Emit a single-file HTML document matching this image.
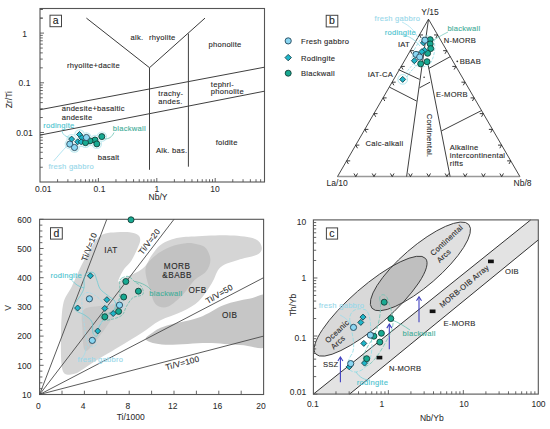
<!DOCTYPE html>
<html><head><meta charset="utf-8"><style>
html,body{margin:0;padding:0;background:#fff;}
svg{display:block;font-family:"Liberation Sans",sans-serif;}
</style></head><body>
<svg width="550" height="429" viewBox="0 0 550 429">
<rect width="550" height="429" fill="#fff"/>
<rect x="40" y="8.5" width="224.5" height="173.5" fill="none" stroke="#555" stroke-width="1.1"/>
<line x1="40.00" y1="167.24" x2="42.80" y2="167.24" stroke="#555" stroke-width="0.9" />
<line x1="40.00" y1="158.49" x2="42.80" y2="158.49" stroke="#555" stroke-width="0.9" />
<line x1="40.00" y1="152.28" x2="42.80" y2="152.28" stroke="#555" stroke-width="0.9" />
<line x1="40.00" y1="147.46" x2="42.80" y2="147.46" stroke="#555" stroke-width="0.9" />
<line x1="40.00" y1="143.53" x2="42.80" y2="143.53" stroke="#555" stroke-width="0.9" />
<line x1="40.00" y1="140.20" x2="42.80" y2="140.20" stroke="#555" stroke-width="0.9" />
<line x1="40.00" y1="137.32" x2="42.80" y2="137.32" stroke="#555" stroke-width="0.9" />
<line x1="40.00" y1="134.77" x2="42.80" y2="134.77" stroke="#555" stroke-width="0.9" />
<line x1="40.00" y1="132.50" x2="44.00" y2="132.50" stroke="#555" stroke-width="0.9" />
<line x1="40.00" y1="117.54" x2="42.80" y2="117.54" stroke="#555" stroke-width="0.9" />
<line x1="40.00" y1="108.79" x2="42.80" y2="108.79" stroke="#555" stroke-width="0.9" />
<line x1="40.00" y1="102.58" x2="42.80" y2="102.58" stroke="#555" stroke-width="0.9" />
<line x1="40.00" y1="97.76" x2="42.80" y2="97.76" stroke="#555" stroke-width="0.9" />
<line x1="40.00" y1="93.83" x2="42.80" y2="93.83" stroke="#555" stroke-width="0.9" />
<line x1="40.00" y1="90.50" x2="42.80" y2="90.50" stroke="#555" stroke-width="0.9" />
<line x1="40.00" y1="87.62" x2="42.80" y2="87.62" stroke="#555" stroke-width="0.9" />
<line x1="40.00" y1="85.07" x2="42.80" y2="85.07" stroke="#555" stroke-width="0.9" />
<line x1="40.00" y1="82.80" x2="44.00" y2="82.80" stroke="#555" stroke-width="0.9" />
<line x1="40.00" y1="67.84" x2="42.80" y2="67.84" stroke="#555" stroke-width="0.9" />
<line x1="40.00" y1="59.09" x2="42.80" y2="59.09" stroke="#555" stroke-width="0.9" />
<line x1="40.00" y1="52.88" x2="42.80" y2="52.88" stroke="#555" stroke-width="0.9" />
<line x1="40.00" y1="48.06" x2="42.80" y2="48.06" stroke="#555" stroke-width="0.9" />
<line x1="40.00" y1="44.13" x2="42.80" y2="44.13" stroke="#555" stroke-width="0.9" />
<line x1="40.00" y1="40.80" x2="42.80" y2="40.80" stroke="#555" stroke-width="0.9" />
<line x1="40.00" y1="37.92" x2="42.80" y2="37.92" stroke="#555" stroke-width="0.9" />
<line x1="40.00" y1="35.37" x2="42.80" y2="35.37" stroke="#555" stroke-width="0.9" />
<line x1="40.00" y1="33.10" x2="44.00" y2="33.10" stroke="#555" stroke-width="0.9" />
<line x1="40.00" y1="18.14" x2="42.80" y2="18.14" stroke="#555" stroke-width="0.9" />
<line x1="40.00" y1="9.39" x2="42.80" y2="9.39" stroke="#555" stroke-width="0.9" />
<line x1="40.00" y1="18.14" x2="42.80" y2="18.14" stroke="#555" stroke-width="0.9" />
<line x1="40.00" y1="9.39" x2="42.80" y2="9.39" stroke="#555" stroke-width="0.9" />
<line x1="57.58" y1="182.00" x2="57.58" y2="179.20" stroke="#555" stroke-width="0.9" />
<line x1="67.86" y1="182.00" x2="67.86" y2="179.20" stroke="#555" stroke-width="0.9" />
<line x1="75.16" y1="182.00" x2="75.16" y2="179.20" stroke="#555" stroke-width="0.9" />
<line x1="80.82" y1="182.00" x2="80.82" y2="179.20" stroke="#555" stroke-width="0.9" />
<line x1="85.44" y1="182.00" x2="85.44" y2="179.20" stroke="#555" stroke-width="0.9" />
<line x1="89.35" y1="182.00" x2="89.35" y2="179.20" stroke="#555" stroke-width="0.9" />
<line x1="92.74" y1="182.00" x2="92.74" y2="179.20" stroke="#555" stroke-width="0.9" />
<line x1="95.73" y1="182.00" x2="95.73" y2="179.20" stroke="#555" stroke-width="0.9" />
<line x1="98.40" y1="182.00" x2="98.40" y2="178.00" stroke="#555" stroke-width="0.9" />
<line x1="115.98" y1="182.00" x2="115.98" y2="179.20" stroke="#555" stroke-width="0.9" />
<line x1="126.26" y1="182.00" x2="126.26" y2="179.20" stroke="#555" stroke-width="0.9" />
<line x1="133.56" y1="182.00" x2="133.56" y2="179.20" stroke="#555" stroke-width="0.9" />
<line x1="139.22" y1="182.00" x2="139.22" y2="179.20" stroke="#555" stroke-width="0.9" />
<line x1="143.84" y1="182.00" x2="143.84" y2="179.20" stroke="#555" stroke-width="0.9" />
<line x1="147.75" y1="182.00" x2="147.75" y2="179.20" stroke="#555" stroke-width="0.9" />
<line x1="151.14" y1="182.00" x2="151.14" y2="179.20" stroke="#555" stroke-width="0.9" />
<line x1="154.13" y1="182.00" x2="154.13" y2="179.20" stroke="#555" stroke-width="0.9" />
<line x1="156.80" y1="182.00" x2="156.80" y2="178.00" stroke="#555" stroke-width="0.9" />
<line x1="174.38" y1="182.00" x2="174.38" y2="179.20" stroke="#555" stroke-width="0.9" />
<line x1="184.66" y1="182.00" x2="184.66" y2="179.20" stroke="#555" stroke-width="0.9" />
<line x1="191.96" y1="182.00" x2="191.96" y2="179.20" stroke="#555" stroke-width="0.9" />
<line x1="197.62" y1="182.00" x2="197.62" y2="179.20" stroke="#555" stroke-width="0.9" />
<line x1="202.24" y1="182.00" x2="202.24" y2="179.20" stroke="#555" stroke-width="0.9" />
<line x1="206.15" y1="182.00" x2="206.15" y2="179.20" stroke="#555" stroke-width="0.9" />
<line x1="209.54" y1="182.00" x2="209.54" y2="179.20" stroke="#555" stroke-width="0.9" />
<line x1="212.53" y1="182.00" x2="212.53" y2="179.20" stroke="#555" stroke-width="0.9" />
<line x1="215.20" y1="182.00" x2="215.20" y2="178.00" stroke="#555" stroke-width="0.9" />
<line x1="232.78" y1="182.00" x2="232.78" y2="179.20" stroke="#555" stroke-width="0.9" />
<line x1="243.06" y1="182.00" x2="243.06" y2="179.20" stroke="#555" stroke-width="0.9" />
<line x1="250.36" y1="182.00" x2="250.36" y2="179.20" stroke="#555" stroke-width="0.9" />
<line x1="256.02" y1="182.00" x2="256.02" y2="179.20" stroke="#555" stroke-width="0.9" />
<line x1="260.64" y1="182.00" x2="260.64" y2="179.20" stroke="#555" stroke-width="0.9" />
<text x="24.50" y="36.70" font-size="8.5" letter-spacing="0" text-anchor="middle" fill="#2a2a2a" stroke="#2a2a2a" stroke-width="0.05" >1</text>
<text x="24.50" y="86.40" font-size="8.5" letter-spacing="0" text-anchor="middle" fill="#2a2a2a" stroke="#2a2a2a" stroke-width="0.05" >0.1</text>
<text x="24.50" y="136.10" font-size="8.5" letter-spacing="0" text-anchor="middle" fill="#2a2a2a" stroke="#2a2a2a" stroke-width="0.05" >0.01</text>
<text x="43.20" y="191.90" font-size="8.5" letter-spacing="0" text-anchor="middle" fill="#2a2a2a" stroke="#2a2a2a" stroke-width="0.05" >0.01</text>
<text x="99.50" y="191.90" font-size="8.5" letter-spacing="0" text-anchor="middle" fill="#2a2a2a" stroke="#2a2a2a" stroke-width="0.05" >0.1</text>
<text x="156.90" y="191.90" font-size="8.5" letter-spacing="0" text-anchor="middle" fill="#2a2a2a" stroke="#2a2a2a" stroke-width="0.05" >1</text>
<text x="214.90" y="191.90" font-size="8.5" letter-spacing="0" text-anchor="middle" fill="#2a2a2a" stroke="#2a2a2a" stroke-width="0.05" >10</text>
<text x="158.00" y="200.00" font-size="8.5" letter-spacing="0" text-anchor="middle" fill="#2a2a2a" stroke="#2a2a2a" stroke-width="0.05" >Nb/Y</text>
<text x="0.00" y="0.00" font-size="8.5" letter-spacing="0" text-anchor="middle" fill="#2a2a2a" stroke="#2a2a2a" stroke-width="0.05" transform="translate(11.6,99.6) rotate(-90)">Zr/Ti</text>
<rect x="50" y="15.2" width="11.5" height="11.5" fill="#fff" stroke="#444" stroke-width="1"/>
<text x="55.88" y="24.10" font-size="10.5" letter-spacing="0.25" text-anchor="middle" fill="#222" stroke="#222" stroke-width="0.12" >a</text>
<polyline points="86.40,18.10 149.50,67.70 205.00,18.10" fill="none" stroke="#3a3a3a" stroke-width="1" />
<line x1="149.50" y1="67.70" x2="149.50" y2="169.80" stroke="#404040" stroke-width="1" />
<line x1="188.40" y1="33.60" x2="188.40" y2="166.70" stroke="#404040" stroke-width="1" />
<line x1="40.00" y1="109.70" x2="264.50" y2="67.20" stroke="#404040" stroke-width="1" />
<line x1="40.00" y1="135.10" x2="264.50" y2="91.20" stroke="#404040" stroke-width="1" />
<text x="130.50" y="39.70" font-size="7.6" letter-spacing="0.25" text-anchor="start" fill="#2a2a2a" stroke="#2a2a2a" stroke-width="0.12" >alk.</text>
<text x="149.00" y="39.70" font-size="7.6" letter-spacing="0.25" text-anchor="start" fill="#2a2a2a" stroke="#2a2a2a" stroke-width="0.12" >rhyolite</text>
<text x="208.50" y="46.80" font-size="7.6" letter-spacing="0.25" text-anchor="start" fill="#2a2a2a" stroke="#2a2a2a" stroke-width="0.12" >phonolite</text>
<text x="67.00" y="67.70" font-size="7.6" letter-spacing="0.25" text-anchor="start" fill="#2a2a2a" stroke="#2a2a2a" stroke-width="0.12" >rhyolite+dacite</text>
<text x="210.80" y="86.80" font-size="7.6" letter-spacing="0.25" text-anchor="start" fill="#2a2a2a" stroke="#2a2a2a" stroke-width="0.12" >tephri-</text>
<text x="210.80" y="94.20" font-size="7.6" letter-spacing="0.25" text-anchor="start" fill="#2a2a2a" stroke="#2a2a2a" stroke-width="0.12" >phonolite</text>
<text x="158.30" y="95.90" font-size="7.6" letter-spacing="0.25" text-anchor="start" fill="#2a2a2a" stroke="#2a2a2a" stroke-width="0.12" >trachy-</text>
<text x="158.30" y="104.00" font-size="7.6" letter-spacing="0.25" text-anchor="start" fill="#2a2a2a" stroke="#2a2a2a" stroke-width="0.12" >andes.</text>
<text x="61.70" y="111.40" font-size="7.6" letter-spacing="0.25" text-anchor="start" fill="#2a2a2a" stroke="#2a2a2a" stroke-width="0.12" >andesite+basaltic</text>
<text x="61.70" y="119.80" font-size="7.6" letter-spacing="0.25" text-anchor="start" fill="#2a2a2a" stroke="#2a2a2a" stroke-width="0.12" >andesite</text>
<text x="156.00" y="153.40" font-size="7.6" letter-spacing="0.25" text-anchor="start" fill="#2a2a2a" stroke="#2a2a2a" stroke-width="0.12" >Alk. bas.</text>
<text x="97.70" y="160.20" font-size="7.6" letter-spacing="0.25" text-anchor="start" fill="#2a2a2a" stroke="#2a2a2a" stroke-width="0.12" >basalt</text>
<text x="215.70" y="144.60" font-size="7.6" letter-spacing="0.25" text-anchor="start" fill="#2a2a2a" stroke="#2a2a2a" stroke-width="0.12" >foidite</text>
<circle cx="71.6" cy="139.1" r="5.2" fill="#bfeaf0"/>
<circle cx="79.5" cy="134.5" r="5.2" fill="#bfeaf0"/>
<circle cx="81.8" cy="137.7" r="5.2" fill="#bfeaf0"/>
<circle cx="77.7" cy="141.8" r="5.2" fill="#bfeaf0"/>
<circle cx="81.1" cy="141.8" r="5.2" fill="#bfeaf0"/>
<circle cx="101.8" cy="136.6" r="5.2" fill="#bfeaf0"/>
<circle cx="95" cy="140" r="5.2" fill="#bfeaf0"/>
<circle cx="96.8" cy="143.9" r="5.2" fill="#bfeaf0"/>
<circle cx="90" cy="140.9" r="5.2" fill="#bfeaf0"/>
<circle cx="85.5" cy="142.7" r="5.2" fill="#bfeaf0"/>
<circle cx="69.8" cy="144.1" r="5.2" fill="#bfeaf0"/>
<circle cx="74.5" cy="147.5" r="5.2" fill="#bfeaf0"/>
<circle cx="86.4" cy="137.5" r="5.2" fill="#bfeaf0"/>
<circle cx="71.6" cy="139.1" r="4.3" fill="#eefafb"/>
<circle cx="79.5" cy="134.5" r="4.3" fill="#eefafb"/>
<circle cx="81.8" cy="137.7" r="4.3" fill="#eefafb"/>
<circle cx="77.7" cy="141.8" r="4.3" fill="#eefafb"/>
<circle cx="81.1" cy="141.8" r="4.3" fill="#eefafb"/>
<circle cx="101.8" cy="136.6" r="4.3" fill="#eefafb"/>
<circle cx="95" cy="140" r="4.3" fill="#eefafb"/>
<circle cx="96.8" cy="143.9" r="4.3" fill="#eefafb"/>
<circle cx="90" cy="140.9" r="4.3" fill="#eefafb"/>
<circle cx="85.5" cy="142.7" r="4.3" fill="#eefafb"/>
<circle cx="69.8" cy="144.1" r="4.3" fill="#eefafb"/>
<circle cx="74.5" cy="147.5" r="4.3" fill="#eefafb"/>
<circle cx="86.4" cy="137.5" r="4.3" fill="#eefafb"/>
<path d="M61.8,131 C63,135 66,137 70,137.5" fill="none" stroke="#7dd3dc" stroke-width="0.8"/>
<path d="M53.6,161 C58,156 63,150 67,146" fill="none" stroke="#9edcec" stroke-width="0.8"/>
<path d="M114,132.5 C112,137 109,139 104.5,139" fill="none" stroke="#6cc4b4" stroke-width="0.8"/>
<text x="43.20" y="128.30" font-size="7.6" letter-spacing="0.25" text-anchor="start" fill="#4cc4cf" stroke="#4cc4cf" stroke-width="0.12" >rodingite</text>
<text x="48.40" y="168.60" font-size="7.6" letter-spacing="0.25" text-anchor="start" fill="#98d8ea" stroke="#98d8ea" stroke-width="0.12" >fresh gabbro</text>
<text x="112.80" y="130.60" font-size="7.6" letter-spacing="0.25" text-anchor="start" fill="#45ae9a" stroke="#45ae9a" stroke-width="0.12" >blackwall</text>
<polygon points="71.60,136.10 74.60,139.10 71.60,142.10 68.60,139.10" fill="#1fb6c9" stroke="#16434c" stroke-width="0.9" />
<polygon points="79.50,131.50 82.50,134.50 79.50,137.50 76.50,134.50" fill="#1fb6c9" stroke="#16434c" stroke-width="0.9" />
<polygon points="81.80,134.70 84.80,137.70 81.80,140.70 78.80,137.70" fill="#1fb6c9" stroke="#16434c" stroke-width="0.9" />
<polygon points="77.70,138.80 80.70,141.80 77.70,144.80 74.70,141.80" fill="#1fb6c9" stroke="#16434c" stroke-width="0.9" />
<polygon points="81.10,138.80 84.10,141.80 81.10,144.80 78.10,141.80" fill="#1fb6c9" stroke="#16434c" stroke-width="0.9" />
<circle cx="101.80" cy="136.60" r="3.0" fill="#18aa92" stroke="#123f38" stroke-width="0.9"/>
<circle cx="95.00" cy="140.00" r="3.0" fill="#18aa92" stroke="#123f38" stroke-width="0.9"/>
<circle cx="96.80" cy="143.90" r="3.0" fill="#18aa92" stroke="#123f38" stroke-width="0.9"/>
<circle cx="90.00" cy="140.90" r="3.0" fill="#18aa92" stroke="#123f38" stroke-width="0.9"/>
<circle cx="85.50" cy="142.70" r="3.0" fill="#18aa92" stroke="#123f38" stroke-width="0.9"/>
<circle cx="69.80" cy="144.10" r="3.1" fill="#8ad6f2" stroke="#24465a" stroke-width="0.9"/>
<circle cx="74.50" cy="147.50" r="3.1" fill="#8ad6f2" stroke="#24465a" stroke-width="0.9"/>
<circle cx="86.40" cy="137.50" r="3.1" fill="#8ad6f2" stroke="#24465a" stroke-width="0.9"/>
<circle cx="288.20" cy="40.90" r="3.1" fill="#8ad6f2" stroke="#24465a" stroke-width="0.9"/>
<polygon points="288.20,54.40 291.40,57.60 288.20,60.80 285.00,57.60" fill="#1fb6c9" stroke="#16434c" stroke-width="0.9" />
<circle cx="288.20" cy="73.20" r="3.0" fill="#18aa92" stroke="#123f38" stroke-width="0.9"/>
<text x="301.00" y="43.60" font-size="7.6" letter-spacing="0.25" text-anchor="start" fill="#2a2a2a" stroke="#2a2a2a" stroke-width="0.12" >Fresh gabbro</text>
<text x="301.00" y="60.60" font-size="7.6" letter-spacing="0.25" text-anchor="start" fill="#2a2a2a" stroke="#2a2a2a" stroke-width="0.12" >Rodingite</text>
<text x="301.00" y="75.80" font-size="7.6" letter-spacing="0.25" text-anchor="start" fill="#2a2a2a" stroke="#2a2a2a" stroke-width="0.12" >Blackwall</text>
<rect x="326.2" y="15.3" width="11.6" height="11.6" fill="#fff" stroke="#444" stroke-width="1"/>
<text x="332.12" y="24.30" font-size="10.5" letter-spacing="0.25" text-anchor="middle" fill="#222" stroke="#222" stroke-width="0.12" >b</text>
<line x1="337.50" y1="176.60" x2="519.90" y2="176.60" stroke="#999" stroke-width="1.5" />
<polyline points="337.50,176.60 428.50,19.20 519.90,176.60" fill="none" stroke="#333" stroke-width="0.9" />
<polyline points="353.94,173.48 355.74,176.60 357.54,173.48" fill="none" stroke="#222" stroke-width="0.9" />
<polyline points="423.00,34.94 419.40,34.94 421.20,38.06" fill="none" stroke="#222" stroke-width="0.9" />
<polyline points="434.04,34.94 437.64,34.94 435.84,38.06" fill="none" stroke="#222" stroke-width="0.9" />
<polyline points="372.18,173.48 373.98,176.60 375.78,173.48" fill="none" stroke="#222" stroke-width="0.9" />
<polyline points="413.90,50.68 410.30,50.68 412.10,53.80" fill="none" stroke="#222" stroke-width="0.9" />
<polyline points="443.18,50.68 446.78,50.68 444.98,53.80" fill="none" stroke="#222" stroke-width="0.9" />
<polyline points="390.42,173.48 392.22,176.60 394.02,173.48" fill="none" stroke="#222" stroke-width="0.9" />
<polyline points="404.80,66.42 401.20,66.42 403.00,69.54" fill="none" stroke="#222" stroke-width="0.9" />
<polyline points="452.32,66.42 455.92,66.42 454.12,69.54" fill="none" stroke="#222" stroke-width="0.9" />
<polyline points="408.66,173.48 410.46,176.60 412.26,173.48" fill="none" stroke="#222" stroke-width="0.9" />
<polyline points="395.70,82.16 392.10,82.16 393.90,85.28" fill="none" stroke="#222" stroke-width="0.9" />
<polyline points="461.46,82.16 465.06,82.16 463.26,85.28" fill="none" stroke="#222" stroke-width="0.9" />
<polyline points="426.90,173.48 428.70,176.60 430.50,173.48" fill="none" stroke="#222" stroke-width="0.9" />
<polyline points="386.60,97.90 383.00,97.90 384.80,101.02" fill="none" stroke="#222" stroke-width="0.9" />
<polyline points="470.60,97.90 474.20,97.90 472.40,101.02" fill="none" stroke="#222" stroke-width="0.9" />
<polyline points="445.14,173.48 446.94,176.60 448.74,173.48" fill="none" stroke="#222" stroke-width="0.9" />
<polyline points="377.50,113.64 373.90,113.64 375.70,116.76" fill="none" stroke="#222" stroke-width="0.9" />
<polyline points="479.74,113.64 483.34,113.64 481.54,116.76" fill="none" stroke="#222" stroke-width="0.9" />
<polyline points="463.38,173.48 465.18,176.60 466.98,173.48" fill="none" stroke="#222" stroke-width="0.9" />
<polyline points="368.40,129.38 364.80,129.38 366.60,132.50" fill="none" stroke="#222" stroke-width="0.9" />
<polyline points="488.88,129.38 492.48,129.38 490.68,132.50" fill="none" stroke="#222" stroke-width="0.9" />
<polyline points="481.62,173.48 483.42,176.60 485.22,173.48" fill="none" stroke="#222" stroke-width="0.9" />
<polyline points="359.30,145.12 355.70,145.12 357.50,148.24" fill="none" stroke="#222" stroke-width="0.9" />
<polyline points="498.02,145.12 501.62,145.12 499.82,148.24" fill="none" stroke="#222" stroke-width="0.9" />
<polyline points="499.86,173.48 501.66,176.60 503.46,173.48" fill="none" stroke="#222" stroke-width="0.9" />
<polyline points="350.20,160.86 346.60,160.86 348.40,163.98" fill="none" stroke="#222" stroke-width="0.9" />
<polyline points="507.16,160.86 510.76,160.86 508.96,163.98" fill="none" stroke="#222" stroke-width="0.9" />
<text x="430.00" y="15.20" font-size="8.5" letter-spacing="0" text-anchor="middle" fill="#2a2a2a" stroke="#2a2a2a" stroke-width="0.05" >Y/15</text>
<text x="326.50" y="186.40" font-size="8.5" letter-spacing="0" text-anchor="start" fill="#2a2a2a" stroke="#2a2a2a" stroke-width="0.05" >La/10</text>
<text x="513.60" y="186.40" font-size="8.5" letter-spacing="0" text-anchor="start" fill="#2a2a2a" stroke="#2a2a2a" stroke-width="0.05" >Nb/8</text>
<line x1="428.50" y1="19.20" x2="406.60" y2="176.60" stroke="#404040" stroke-width="1" />
<line x1="427.60" y1="62.00" x2="450.10" y2="176.60" stroke="#404040" stroke-width="1" />
<line x1="398.50" y1="69.60" x2="419.50" y2="79.40" stroke="#404040" stroke-width="1" />
<line x1="389.40" y1="87.10" x2="416.70" y2="101.10" stroke="#404040" stroke-width="1" />
<line x1="419.50" y1="87.80" x2="430.00" y2="82.20" stroke="#404040" stroke-width="1" />
<line x1="428.70" y1="68.50" x2="450.50" y2="56.50" stroke="#404040" stroke-width="1" />
<line x1="441.30" y1="131.00" x2="482.00" y2="110.30" stroke="#404040" stroke-width="1" />
<circle cx="424.1" cy="77.3" r="0.8" fill="#333"/>
<circle cx="457.3" cy="61.3" r="0.9" fill="#333"/>
<text x="397.90" y="47.30" font-size="7.6" letter-spacing="0.25" text-anchor="start" fill="#2a2a2a" stroke="#2a2a2a" stroke-width="0.12" >IAT</text>
<text x="443.70" y="43.40" font-size="7.6" letter-spacing="0.25" text-anchor="start" fill="#2a2a2a" stroke="#2a2a2a" stroke-width="0.12" >N-MORB</text>
<text x="459.70" y="63.50" font-size="7.6" letter-spacing="0.25" text-anchor="start" fill="#2a2a2a" stroke="#2a2a2a" stroke-width="0.12" >BBAB</text>
<text x="367.70" y="76.90" font-size="7.6" letter-spacing="0.25" text-anchor="start" fill="#2a2a2a" stroke="#2a2a2a" stroke-width="0.12" >IAT-CA</text>
<text x="436.00" y="96.90" font-size="7.6" letter-spacing="0.25" text-anchor="start" fill="#2a2a2a" stroke="#2a2a2a" stroke-width="0.12" >E-MORB</text>
<text x="365.60" y="146.30" font-size="7.6" letter-spacing="0.25" text-anchor="start" fill="#2a2a2a" stroke="#2a2a2a" stroke-width="0.12" >Calc-alkali</text>
<text x="449.80" y="150.00" font-size="7.6" letter-spacing="0.25" text-anchor="start" fill="#2a2a2a" stroke="#2a2a2a" stroke-width="0.12" >Alkaline</text>
<text x="449.80" y="158.10" font-size="7.6" letter-spacing="0.25" text-anchor="start" fill="#2a2a2a" stroke="#2a2a2a" stroke-width="0.12" >intercontinental</text>
<text x="449.80" y="166.20" font-size="7.6" letter-spacing="0.25" text-anchor="start" fill="#2a2a2a" stroke="#2a2a2a" stroke-width="0.12" >rifts</text>
<text x="0.12" y="0.00" font-size="7.6" letter-spacing="0.25" text-anchor="middle" fill="#2a2a2a" stroke="#2a2a2a" stroke-width="0.12" transform="translate(426.6,135.3) rotate(90)">Continental.</text>
<path d="M413,63 C410,56 415,48 420,40 C424,34 432,35 434,40 C436,48 434,58 430,64 C426,68 416,68 413,63 Z" fill="none" stroke="#8fdde6" stroke-width="0.8" stroke-dasharray="3,1.5"/>
<ellipse cx="402.7" cy="79.4" rx="4.8" ry="4.8" fill="none" stroke="#8fdde6" stroke-width="0.7"/>
<path d="M414,63 C410,68 406,72 405,75" fill="none" stroke="#9fdcec" stroke-width="0.7" stroke-dasharray="2.5,1.2"/>
<path d="M418,64 C412,70 408,74 407,77" fill="none" stroke="#7dd3dc" stroke-width="0.7" stroke-dasharray="2.5,1.2"/>
<path d="M418,38 C414,30 410,26 402,22" fill="none" stroke="#9edcec" stroke-width="0.7"/>
<path d="M420,46 C415,40 410,36 400,34" fill="none" stroke="#7dd3dc" stroke-width="0.7"/>
<path d="M434,40 C440,36 444,34 448,32" fill="none" stroke="#6cc4b4" stroke-width="0.7"/>
<text x="420.25" y="21.20" font-size="7.6" letter-spacing="0.25" text-anchor="end" fill="#98d8ea" stroke="#98d8ea" stroke-width="0.12" >fresh gabbro</text>
<text x="416.05" y="34.90" font-size="7.6" letter-spacing="0.25" text-anchor="end" fill="#4cc4cf" stroke="#4cc4cf" stroke-width="0.12" >rodingite</text>
<text x="447.40" y="31.00" font-size="7.6" letter-spacing="0.25" text-anchor="start" fill="#45ae9a" stroke="#45ae9a" stroke-width="0.12" >blackwall</text>
<circle cx="430.20" cy="39.70" r="3.0" fill="#18aa92" stroke="#123f38" stroke-width="0.9"/>
<circle cx="430.20" cy="43.90" r="3.0" fill="#18aa92" stroke="#123f38" stroke-width="0.9"/>
<circle cx="430.70" cy="48.60" r="3.0" fill="#18aa92" stroke="#123f38" stroke-width="0.9"/>
<circle cx="427.60" cy="53.30" r="3.0" fill="#18aa92" stroke="#123f38" stroke-width="0.9"/>
<circle cx="420.70" cy="63.80" r="3.0" fill="#18aa92" stroke="#123f38" stroke-width="0.9"/>
<circle cx="427.00" cy="61.70" r="3.0" fill="#18aa92" stroke="#123f38" stroke-width="0.9"/>
<polygon points="423.40,39.80 426.40,42.80 423.40,45.80 420.40,42.80" fill="#1fb6c9" stroke="#16434c" stroke-width="0.9" />
<polygon points="424.40,47.20 427.40,50.20 424.40,53.20 421.40,50.20" fill="#1fb6c9" stroke="#16434c" stroke-width="0.9" />
<polygon points="421.80,48.70 424.80,51.70 421.80,54.70 418.80,51.70" fill="#1fb6c9" stroke="#16434c" stroke-width="0.9" />
<polygon points="414.40,57.70 417.40,60.70 414.40,63.70 411.40,60.70" fill="#1fb6c9" stroke="#16434c" stroke-width="0.9" />
<polygon points="402.70,76.40 405.70,79.40 402.70,82.40 399.70,79.40" fill="#1fb6c9" stroke="#16434c" stroke-width="0.9" />
<circle cx="424.90" cy="40.20" r="3.1" fill="#8ad6f2" stroke="#24465a" stroke-width="0.9"/>
<circle cx="416.00" cy="54.40" r="3.1" fill="#8ad6f2" stroke="#24465a" stroke-width="0.9"/>
<circle cx="419.70" cy="57.00" r="3.1" fill="#8ad6f2" stroke="#24465a" stroke-width="0.9"/>
<defs><clipPath id="dcl"><rect x="39.6" y="219.3" width="224.00000000000003" height="175.2"/></clipPath></defs><g clip-path="url(#dcl)">
<path d="M73.50,374.00 C70.50,374.15 65.10,376.72 63.00,371.50 C60.90,366.28 60.90,353.78 60.90,342.70 C60.90,331.62 61.18,314.35 63.00,305.00 C64.82,295.65 68.78,293.10 71.80,286.60 C74.82,280.10 78.00,272.22 81.10,266.00 C84.20,259.78 87.60,253.95 90.40,249.30 C93.20,244.65 95.40,240.75 97.90,238.10 C100.40,235.45 102.28,234.38 105.40,233.40 C108.52,232.42 112.57,232.40 116.60,232.20 C120.63,232.00 126.03,231.73 129.60,232.20 C133.17,232.67 136.23,233.62 138.00,235.00 C139.77,236.38 140.35,238.12 140.20,240.50 C140.05,242.88 138.55,245.98 137.10,249.30 C135.65,252.62 133.57,257.23 131.50,260.40 C129.43,263.57 126.62,265.62 124.70,268.30 C122.78,270.98 121.05,274.25 120.00,276.50 C118.95,278.75 117.57,281.63 118.40,281.80 C119.23,281.97 121.68,279.23 125.00,277.50 C128.32,275.77 134.82,273.43 138.30,271.40 C141.78,269.37 143.87,267.70 145.90,265.30 C147.93,262.90 148.82,259.63 150.50,257.00 C152.18,254.37 153.98,251.75 156.00,249.50 C158.02,247.25 159.43,245.33 162.60,243.50 C165.77,241.67 170.18,239.65 175.00,238.50 C179.82,237.35 182.93,237.15 191.50,236.60 C200.07,236.05 216.23,234.95 226.40,235.20 C236.57,235.45 246.68,236.40 252.50,238.10 C258.32,239.80 260.32,242.73 261.30,245.40 C262.28,248.07 262.28,251.68 258.40,254.10 C254.52,256.52 244.32,257.72 238.00,259.90 C231.68,262.08 224.87,263.32 220.50,267.20 C216.13,271.08 215.40,277.58 211.80,283.20 C208.20,288.82 203.83,296.20 198.90,300.90 C193.97,305.60 188.68,308.13 182.20,311.40 C175.72,314.67 166.77,316.90 160.00,320.50 C153.23,324.10 148.55,328.53 141.60,333.00 C134.65,337.47 126.07,342.58 118.30,347.30 C110.53,352.02 101.22,357.42 95.00,361.30 C88.78,365.18 84.58,368.48 81.00,370.60 C77.42,372.72 76.50,373.85 73.50,374.00 Z" fill="#d5d5d5"/>
<path d="M83.30,310.30 C86.22,306.30 94.17,306.97 100.00,306.00 C105.83,305.03 115.63,303.40 118.30,304.50 C120.97,305.60 117.95,308.92 116.00,312.60 C114.05,316.28 110.50,321.15 106.60,326.60 C102.70,332.05 96.28,341.40 92.60,345.30 C88.92,349.20 86.18,352.55 84.50,350.00 C82.82,347.45 82.70,336.62 82.50,330.00 C82.30,323.38 80.38,314.30 83.30,310.30 Z" fill="#c9c9c9"/>
<path d="M145.50,269.00 C146.18,263.02 150.72,259.67 154.80,256.00 C158.88,252.33 164.80,249.13 170.00,247.00 C175.20,244.87 181.33,243.62 186.00,243.20 C190.67,242.78 194.67,243.65 198.00,244.50 C201.33,245.35 203.93,245.73 206.00,248.30 C208.07,250.87 210.40,256.03 210.40,259.90 C210.40,263.77 208.67,268.10 206.00,271.50 C203.33,274.90 198.28,276.42 194.40,280.30 C190.52,284.18 187.07,290.43 182.70,294.80 C178.33,299.17 172.57,304.80 168.20,306.50 C163.83,308.20 159.42,307.43 156.50,305.00 C153.58,302.57 152.53,297.90 150.70,291.90 C148.87,285.90 144.82,274.98 145.50,269.00 Z" fill="#c2c2c2"/>
<path d="M146.20,340.00 C143.95,338.03 148.78,335.33 152.00,333.00 C155.22,330.67 157.68,328.57 165.50,326.00 C173.32,323.43 189.15,321.10 198.90,317.60 C208.65,314.10 215.63,308.13 224.00,305.00 C232.37,301.87 241.43,300.05 249.10,298.80 C256.77,297.55 266.52,289.88 270.00,297.50 C273.48,305.12 275.00,336.58 270.00,344.50 C265.00,352.42 250.45,345.25 240.00,345.00 C229.55,344.75 219.72,343.03 207.30,343.00 C194.88,342.97 175.68,345.30 165.50,344.80 C155.32,344.30 148.45,341.97 146.20,340.00 Z" fill="#c6c6c6"/>
</g>
<rect x="39.6" y="219.3" width="224.00000000000003" height="175.2" fill="none" stroke="#555" stroke-width="1.1"/>
<line x1="39.60" y1="394.50" x2="43.60" y2="394.50" stroke="#555" stroke-width="0.9" />
<line x1="39.60" y1="388.66" x2="42.40" y2="388.66" stroke="#555" stroke-width="0.9" />
<line x1="39.60" y1="382.82" x2="42.40" y2="382.82" stroke="#555" stroke-width="0.9" />
<line x1="39.60" y1="376.98" x2="42.40" y2="376.98" stroke="#555" stroke-width="0.9" />
<line x1="39.60" y1="371.14" x2="42.40" y2="371.14" stroke="#555" stroke-width="0.9" />
<line x1="39.60" y1="365.30" x2="43.60" y2="365.30" stroke="#555" stroke-width="0.9" />
<line x1="39.60" y1="359.46" x2="42.40" y2="359.46" stroke="#555" stroke-width="0.9" />
<line x1="39.60" y1="353.62" x2="42.40" y2="353.62" stroke="#555" stroke-width="0.9" />
<line x1="39.60" y1="347.78" x2="42.40" y2="347.78" stroke="#555" stroke-width="0.9" />
<line x1="39.60" y1="341.94" x2="42.40" y2="341.94" stroke="#555" stroke-width="0.9" />
<line x1="39.60" y1="336.10" x2="43.60" y2="336.10" stroke="#555" stroke-width="0.9" />
<line x1="39.60" y1="330.26" x2="42.40" y2="330.26" stroke="#555" stroke-width="0.9" />
<line x1="39.60" y1="324.42" x2="42.40" y2="324.42" stroke="#555" stroke-width="0.9" />
<line x1="39.60" y1="318.58" x2="42.40" y2="318.58" stroke="#555" stroke-width="0.9" />
<line x1="39.60" y1="312.74" x2="42.40" y2="312.74" stroke="#555" stroke-width="0.9" />
<line x1="39.60" y1="306.90" x2="43.60" y2="306.90" stroke="#555" stroke-width="0.9" />
<line x1="39.60" y1="301.06" x2="42.40" y2="301.06" stroke="#555" stroke-width="0.9" />
<line x1="39.60" y1="295.22" x2="42.40" y2="295.22" stroke="#555" stroke-width="0.9" />
<line x1="39.60" y1="289.38" x2="42.40" y2="289.38" stroke="#555" stroke-width="0.9" />
<line x1="39.60" y1="283.54" x2="42.40" y2="283.54" stroke="#555" stroke-width="0.9" />
<line x1="39.60" y1="277.70" x2="43.60" y2="277.70" stroke="#555" stroke-width="0.9" />
<line x1="39.60" y1="271.86" x2="42.40" y2="271.86" stroke="#555" stroke-width="0.9" />
<line x1="39.60" y1="266.02" x2="42.40" y2="266.02" stroke="#555" stroke-width="0.9" />
<line x1="39.60" y1="260.18" x2="42.40" y2="260.18" stroke="#555" stroke-width="0.9" />
<line x1="39.60" y1="254.34" x2="42.40" y2="254.34" stroke="#555" stroke-width="0.9" />
<line x1="39.60" y1="248.50" x2="43.60" y2="248.50" stroke="#555" stroke-width="0.9" />
<line x1="39.60" y1="242.66" x2="42.40" y2="242.66" stroke="#555" stroke-width="0.9" />
<line x1="39.60" y1="236.82" x2="42.40" y2="236.82" stroke="#555" stroke-width="0.9" />
<line x1="39.60" y1="230.98" x2="42.40" y2="230.98" stroke="#555" stroke-width="0.9" />
<line x1="39.60" y1="225.14" x2="42.40" y2="225.14" stroke="#555" stroke-width="0.9" />
<line x1="39.60" y1="219.30" x2="43.60" y2="219.30" stroke="#555" stroke-width="0.9" />
<line x1="62.00" y1="394.50" x2="62.00" y2="390.70" stroke="#555" stroke-width="0.9" />
<line x1="84.40" y1="394.50" x2="84.40" y2="390.70" stroke="#555" stroke-width="0.9" />
<line x1="106.80" y1="394.50" x2="106.80" y2="390.70" stroke="#555" stroke-width="0.9" />
<line x1="129.20" y1="394.50" x2="129.20" y2="390.70" stroke="#555" stroke-width="0.9" />
<line x1="151.60" y1="394.50" x2="151.60" y2="390.70" stroke="#555" stroke-width="0.9" />
<line x1="174.00" y1="394.50" x2="174.00" y2="390.70" stroke="#555" stroke-width="0.9" />
<line x1="196.40" y1="394.50" x2="196.40" y2="390.70" stroke="#555" stroke-width="0.9" />
<line x1="218.80" y1="394.50" x2="218.80" y2="390.70" stroke="#555" stroke-width="0.9" />
<line x1="241.20" y1="394.50" x2="241.20" y2="390.70" stroke="#555" stroke-width="0.9" />
<text x="31.50" y="397.80" font-size="8.5" letter-spacing="0" text-anchor="end" fill="#2a2a2a" stroke="#2a2a2a" stroke-width="0.05" >10</text>
<text x="31.50" y="368.60" font-size="8.5" letter-spacing="0" text-anchor="end" fill="#2a2a2a" stroke="#2a2a2a" stroke-width="0.05" >100</text>
<text x="31.50" y="339.40" font-size="8.5" letter-spacing="0" text-anchor="end" fill="#2a2a2a" stroke="#2a2a2a" stroke-width="0.05" >200</text>
<text x="31.50" y="310.20" font-size="8.5" letter-spacing="0" text-anchor="end" fill="#2a2a2a" stroke="#2a2a2a" stroke-width="0.05" >300</text>
<text x="31.50" y="281.00" font-size="8.5" letter-spacing="0" text-anchor="end" fill="#2a2a2a" stroke="#2a2a2a" stroke-width="0.05" >400</text>
<text x="31.50" y="251.80" font-size="8.5" letter-spacing="0" text-anchor="end" fill="#2a2a2a" stroke="#2a2a2a" stroke-width="0.05" >500</text>
<text x="31.50" y="222.60" font-size="8.5" letter-spacing="0" text-anchor="end" fill="#2a2a2a" stroke="#2a2a2a" stroke-width="0.05" >600</text>
<text x="38.30" y="408.50" font-size="8.5" letter-spacing="0" text-anchor="middle" fill="#2a2a2a" stroke="#2a2a2a" stroke-width="0.05" >0</text>
<text x="83.10" y="408.50" font-size="8.5" letter-spacing="0" text-anchor="middle" fill="#2a2a2a" stroke="#2a2a2a" stroke-width="0.05" >4</text>
<text x="127.90" y="408.50" font-size="8.5" letter-spacing="0" text-anchor="middle" fill="#2a2a2a" stroke="#2a2a2a" stroke-width="0.05" >8</text>
<text x="172.70" y="408.50" font-size="8.5" letter-spacing="0" text-anchor="middle" fill="#2a2a2a" stroke="#2a2a2a" stroke-width="0.05" >12</text>
<text x="217.50" y="408.50" font-size="8.5" letter-spacing="0" text-anchor="middle" fill="#2a2a2a" stroke="#2a2a2a" stroke-width="0.05" >16</text>
<text x="261.10" y="408.50" font-size="8.5" letter-spacing="0" text-anchor="middle" fill="#2a2a2a" stroke="#2a2a2a" stroke-width="0.05" >20</text>
<text x="130.70" y="420.30" font-size="8.5" letter-spacing="0" text-anchor="middle" fill="#2a2a2a" stroke="#2a2a2a" stroke-width="0.05" >Ti/1000</text>
<text x="0.00" y="0.00" font-size="8.5" letter-spacing="0" text-anchor="middle" fill="#2a2a2a" stroke="#2a2a2a" stroke-width="0.05" transform="translate(11.2,308) rotate(-90)">V</text>
<rect x="50.5" y="227.7" width="11.8" height="11.4" fill="#fff" stroke="#444" stroke-width="1"/>
<text x="56.52" y="236.50" font-size="10.5" letter-spacing="0.25" text-anchor="middle" fill="#222" stroke="#222" stroke-width="0.12" >d</text>
<line x1="39.60" y1="394.50" x2="106.80" y2="219.30" stroke="#484848" stroke-width="0.9" />
<line x1="39.60" y1="394.50" x2="174.00" y2="219.30" stroke="#484848" stroke-width="0.9" />
<line x1="39.60" y1="394.50" x2="263.60" y2="277.70" stroke="#484848" stroke-width="0.9" />
<line x1="39.60" y1="394.50" x2="263.60" y2="336.10" stroke="#484848" stroke-width="0.9" />
<text x="0.12" y="0.00" font-size="8.2" letter-spacing="0.25" text-anchor="middle" fill="#2a2a2a" stroke="#2a2a2a" stroke-width="0.12" transform="translate(91.8,248.2) rotate(-69)">Ti/V=10</text>
<text x="0.12" y="0.00" font-size="8.2" letter-spacing="0.25" text-anchor="middle" fill="#2a2a2a" stroke="#2a2a2a" stroke-width="0.12" transform="translate(151.5,243.5) rotate(-52.5)">Ti/V=20</text>
<text x="0.12" y="0.00" font-size="8.2" letter-spacing="0.25" text-anchor="middle" fill="#2a2a2a" stroke="#2a2a2a" stroke-width="0.12" transform="translate(220.5,296.5) rotate(-30)">Ti/V=50</text>
<text x="0.12" y="0.00" font-size="8.2" letter-spacing="0.25" text-anchor="middle" fill="#2a2a2a" stroke="#2a2a2a" stroke-width="0.12" transform="translate(183,365.8) rotate(-14.6)">Ti/V=100</text>
<text x="111.05" y="252.90" font-size="8.2" letter-spacing="0.5" text-anchor="middle" fill="#2a2a2a" stroke="#2a2a2a" stroke-width="0.12" >IAT</text>
<text x="177.15" y="268.60" font-size="8.2" letter-spacing="0.5" text-anchor="middle" fill="#2a2a2a" stroke="#2a2a2a" stroke-width="0.12" >MORB</text>
<text x="177.15" y="278.00" font-size="8.2" letter-spacing="0.5" text-anchor="middle" fill="#2a2a2a" stroke="#2a2a2a" stroke-width="0.12" >&amp;BABB</text>
<text x="197.55" y="293.40" font-size="8.2" letter-spacing="0.5" text-anchor="middle" fill="#2a2a2a" stroke="#2a2a2a" stroke-width="0.12" >OFB</text>
<text x="229.75" y="317.60" font-size="8.2" letter-spacing="0.5" text-anchor="middle" fill="#2a2a2a" stroke="#2a2a2a" stroke-width="0.12" >OIB</text>
<path d="M86.00,273.70 C87.60,272.63 91.78,271.50 93.60,272.60 C95.42,273.70 95.80,277.57 96.90,280.30 C98.00,283.03 98.38,286.47 100.20,289.00 C102.02,291.53 105.25,293.32 107.80,295.50 C110.35,297.68 114.58,299.55 115.50,302.10 C116.42,304.65 115.13,308.07 113.30,310.80 C111.47,313.53 106.88,315.80 104.50,318.50 C102.12,321.20 100.25,324.08 99.00,327.00 C97.75,329.92 98.00,335.00 97.00,336.00 C96.00,337.00 93.83,335.33 93.00,333.00 C92.17,330.67 93.35,324.97 92.00,322.00 C90.65,319.03 87.53,317.07 84.90,315.20 C82.27,313.33 78.02,312.43 76.20,310.80 C74.38,309.17 73.28,307.95 74.00,305.40 C74.72,302.85 78.83,298.42 80.50,295.50 C82.17,292.58 83.42,290.65 84.00,287.90 C84.58,285.15 83.67,281.37 84.00,279.00 C84.33,276.63 84.40,274.77 86.00,273.70 Z" fill="none" stroke="#5fc9d3" stroke-width="0.7"/>
<path d="M71.8,280.3 C75,284 79,287 84,287.9" fill="none" stroke="#5fc9d3" stroke-width="0.7"/>
<path d="M82.70,295.50 C83.70,293.42 85.78,292.42 88.00,292.50 C90.22,292.58 93.33,294.25 96.00,296.00 C98.67,297.75 101.67,301.33 104.00,303.00 C106.33,304.67 107.67,306.50 110.00,306.00 C112.33,305.50 115.67,300.50 118.00,300.00 C120.33,299.50 123.33,301.50 124.00,303.00 C124.67,304.50 124.00,306.83 122.00,309.00 C120.00,311.17 115.67,313.50 112.00,316.00 C108.33,318.50 103.00,320.83 100.00,324.00 C97.00,327.17 94.67,331.50 94.00,335.00 C93.33,338.50 96.83,343.17 96.00,345.00 C95.17,346.83 90.67,347.50 89.00,346.00 C87.33,344.50 86.83,340.00 86.00,336.00 C85.17,332.00 84.67,327.17 84.00,322.00 C83.33,316.83 82.22,309.42 82.00,305.00 C81.78,300.58 81.70,297.58 82.70,295.50 Z" fill="none" stroke="#9fdcec" stroke-width="0.7" stroke-dasharray="3,1.2"/>
<path d="M86,346 C86,352 84,356 82,358" fill="none" stroke="#9fdcec" stroke-width="0.7"/>
<path d="M122.00,278.00 C123.45,277.25 126.32,275.83 128.50,276.50 C130.68,277.17 132.92,280.28 135.10,282.00 C137.28,283.72 140.33,284.72 141.60,286.80 C142.87,288.88 144.15,292.68 142.70,294.50 C141.25,296.32 135.62,295.70 132.90,297.70 C130.18,299.70 128.22,303.58 126.40,306.50 C124.58,309.42 124.55,313.03 122.00,315.20 C119.45,317.37 114.37,318.73 111.10,319.50 C107.83,320.27 104.03,320.70 102.40,319.80 C100.77,318.90 100.22,315.23 101.30,314.10 C102.38,312.97 106.53,313.92 108.90,313.00 C111.27,312.08 113.73,311.10 115.50,308.60 C117.27,306.10 118.78,301.27 119.50,298.00 C120.22,294.73 119.75,291.83 119.80,289.00 C119.85,286.17 119.43,282.83 119.80,281.00 C120.17,279.17 120.55,278.75 122.00,278.00 Z" fill="none" stroke="#55b9a6" stroke-width="0.7" stroke-dasharray="3,1.2"/>
<path d="M135,281.4 C142,283 148,286 151,290" fill="none" stroke="#55b9a6" stroke-width="0.7"/>
<text x="50.50" y="277.60" font-size="7.6" letter-spacing="0.25" text-anchor="start" fill="#4cc4cf" stroke="#4cc4cf" stroke-width="0.12" >rodingite</text>
<text x="77.60" y="361.60" font-size="7.6" letter-spacing="0.25" text-anchor="start" fill="#98d8ea" stroke="#98d8ea" stroke-width="0.12" >fresh gabbro</text>
<text x="149.30" y="296.30" font-size="7.6" letter-spacing="0.25" text-anchor="start" fill="#45ae9a" stroke="#45ae9a" stroke-width="0.12" >blackwall</text>
<polygon points="106.90,296.70 109.90,299.70 106.90,302.70 103.90,299.70" fill="#1fb6c9" stroke="#16434c" stroke-width="0.9" />
<polygon points="104.80,305.40 107.80,308.40 104.80,311.40 101.80,308.40" fill="#1fb6c9" stroke="#16434c" stroke-width="0.9" />
<polygon points="113.20,310.50 116.20,313.50 113.20,316.50 110.20,313.50" fill="#1fb6c9" stroke="#16434c" stroke-width="0.9" />
<polygon points="97.70,328.00 100.70,331.00 97.70,334.00 94.70,331.00" fill="#1fb6c9" stroke="#16434c" stroke-width="0.9" />
<polygon points="77.60,305.00 80.60,308.00 77.60,311.00 74.60,308.00" fill="#1fb6c9" stroke="#16434c" stroke-width="0.9" />
<polygon points="90.40,272.80 93.40,275.80 90.40,278.80 87.40,275.80" fill="#1fb6c9" stroke="#16434c" stroke-width="0.9" />
<circle cx="104.80" cy="316.80" r="3.0" fill="#18aa92" stroke="#123f38" stroke-width="0.9"/>
<circle cx="118.60" cy="311.40" r="3.0" fill="#18aa92" stroke="#123f38" stroke-width="0.9"/>
<circle cx="123.70" cy="297.00" r="3.0" fill="#18aa92" stroke="#123f38" stroke-width="0.9"/>
<circle cx="138.40" cy="291.20" r="3.0" fill="#18aa92" stroke="#123f38" stroke-width="0.9"/>
<circle cx="125.80" cy="281.50" r="3.0" fill="#18aa92" stroke="#123f38" stroke-width="0.9"/>
<circle cx="131.00" cy="219.80" r="3.0" fill="#18aa92" stroke="#123f38" stroke-width="0.9"/>
<circle cx="89.40" cy="298.80" r="3.1" fill="#8ad6f2" stroke="#24465a" stroke-width="0.9"/>
<circle cx="119.50" cy="305.10" r="3.1" fill="#8ad6f2" stroke="#24465a" stroke-width="0.9"/>
<circle cx="92.30" cy="340.40" r="3.1" fill="#8ad6f2" stroke="#24465a" stroke-width="0.9"/>
<polygon points="313.4,394.1 530.7,219.9 538.3,219.9 538.3,239.9 349.6,394.1" fill="#e3e3e3"/>
<line x1="313.40" y1="394.10" x2="530.70" y2="219.90" stroke="#333" stroke-width="1" />
<line x1="349.60" y1="394.10" x2="538.30" y2="239.90" stroke="#333" stroke-width="1" />
<defs><clipPath id="ocl"><ellipse cx="370.6" cy="306.2" rx="72.8" ry="19.8" transform="rotate(-41 370.6 306.2)"/></clipPath></defs>
<ellipse cx="370.6" cy="306.2" rx="72.8" ry="19.8" transform="rotate(-41 370.6 306.2)" fill="#d9d9d9"/>
<ellipse cx="420.4" cy="266.4" rx="64" ry="19.6" transform="rotate(-40.8 420.4 266.4)" fill="#e0e0e0"/>
<g clip-path="url(#ocl)"><ellipse cx="420.4" cy="266.4" rx="64" ry="19.6" transform="rotate(-40.8 420.4 266.4)" fill="#bfbfbf"/></g>
<ellipse cx="370.6" cy="306.2" rx="72.8" ry="19.8" transform="rotate(-41 370.6 306.2)" fill="none" stroke="#3a3a3a" stroke-width="0.9"/>
<ellipse cx="420.4" cy="266.4" rx="64" ry="19.6" transform="rotate(-40.8 420.4 266.4)" fill="none" stroke="#3a3a3a" stroke-width="0.9"/>
<rect x="313.4" y="219.9" width="224.89999999999998" height="174.20000000000002" fill="none" stroke="#555" stroke-width="1.1"/>
<line x1="313.40" y1="394.10" x2="317.40" y2="394.10" stroke="#555" stroke-width="0.9" />
<line x1="313.40" y1="376.62" x2="316.20" y2="376.62" stroke="#555" stroke-width="0.9" />
<line x1="313.40" y1="366.40" x2="316.20" y2="366.40" stroke="#555" stroke-width="0.9" />
<line x1="313.40" y1="359.14" x2="316.20" y2="359.14" stroke="#555" stroke-width="0.9" />
<line x1="313.40" y1="353.51" x2="316.20" y2="353.51" stroke="#555" stroke-width="0.9" />
<line x1="313.40" y1="348.92" x2="316.20" y2="348.92" stroke="#555" stroke-width="0.9" />
<line x1="313.40" y1="345.03" x2="316.20" y2="345.03" stroke="#555" stroke-width="0.9" />
<line x1="313.40" y1="341.66" x2="316.20" y2="341.66" stroke="#555" stroke-width="0.9" />
<line x1="313.40" y1="338.69" x2="316.20" y2="338.69" stroke="#555" stroke-width="0.9" />
<line x1="313.40" y1="336.03" x2="317.40" y2="336.03" stroke="#555" stroke-width="0.9" />
<line x1="313.40" y1="318.55" x2="316.20" y2="318.55" stroke="#555" stroke-width="0.9" />
<line x1="313.40" y1="308.33" x2="316.20" y2="308.33" stroke="#555" stroke-width="0.9" />
<line x1="313.40" y1="301.07" x2="316.20" y2="301.07" stroke="#555" stroke-width="0.9" />
<line x1="313.40" y1="295.45" x2="316.20" y2="295.45" stroke="#555" stroke-width="0.9" />
<line x1="313.40" y1="290.85" x2="316.20" y2="290.85" stroke="#555" stroke-width="0.9" />
<line x1="313.40" y1="286.96" x2="316.20" y2="286.96" stroke="#555" stroke-width="0.9" />
<line x1="313.40" y1="283.59" x2="316.20" y2="283.59" stroke="#555" stroke-width="0.9" />
<line x1="313.40" y1="280.62" x2="316.20" y2="280.62" stroke="#555" stroke-width="0.9" />
<line x1="313.40" y1="277.97" x2="317.40" y2="277.97" stroke="#555" stroke-width="0.9" />
<line x1="313.40" y1="260.49" x2="316.20" y2="260.49" stroke="#555" stroke-width="0.9" />
<line x1="313.40" y1="250.26" x2="316.20" y2="250.26" stroke="#555" stroke-width="0.9" />
<line x1="313.40" y1="243.01" x2="316.20" y2="243.01" stroke="#555" stroke-width="0.9" />
<line x1="313.40" y1="237.38" x2="316.20" y2="237.38" stroke="#555" stroke-width="0.9" />
<line x1="313.40" y1="232.78" x2="316.20" y2="232.78" stroke="#555" stroke-width="0.9" />
<line x1="313.40" y1="228.89" x2="316.20" y2="228.89" stroke="#555" stroke-width="0.9" />
<line x1="313.40" y1="225.53" x2="316.20" y2="225.53" stroke="#555" stroke-width="0.9" />
<line x1="313.40" y1="222.56" x2="316.20" y2="222.56" stroke="#555" stroke-width="0.9" />
<line x1="335.97" y1="394.10" x2="335.97" y2="391.30" stroke="#555" stroke-width="0.9" />
<line x1="349.17" y1="394.10" x2="349.17" y2="391.30" stroke="#555" stroke-width="0.9" />
<line x1="358.53" y1="394.10" x2="358.53" y2="391.30" stroke="#555" stroke-width="0.9" />
<line x1="365.80" y1="394.10" x2="365.80" y2="391.30" stroke="#555" stroke-width="0.9" />
<line x1="371.74" y1="394.10" x2="371.74" y2="391.30" stroke="#555" stroke-width="0.9" />
<line x1="376.75" y1="394.10" x2="376.75" y2="391.30" stroke="#555" stroke-width="0.9" />
<line x1="381.10" y1="394.10" x2="381.10" y2="391.30" stroke="#555" stroke-width="0.9" />
<line x1="384.94" y1="394.10" x2="384.94" y2="391.30" stroke="#555" stroke-width="0.9" />
<line x1="388.37" y1="394.10" x2="388.37" y2="390.10" stroke="#555" stroke-width="0.9" />
<line x1="410.93" y1="394.10" x2="410.93" y2="391.30" stroke="#555" stroke-width="0.9" />
<line x1="424.13" y1="394.10" x2="424.13" y2="391.30" stroke="#555" stroke-width="0.9" />
<line x1="433.50" y1="394.10" x2="433.50" y2="391.30" stroke="#555" stroke-width="0.9" />
<line x1="440.77" y1="394.10" x2="440.77" y2="391.30" stroke="#555" stroke-width="0.9" />
<line x1="446.70" y1="394.10" x2="446.70" y2="391.30" stroke="#555" stroke-width="0.9" />
<line x1="451.72" y1="394.10" x2="451.72" y2="391.30" stroke="#555" stroke-width="0.9" />
<line x1="456.07" y1="394.10" x2="456.07" y2="391.30" stroke="#555" stroke-width="0.9" />
<line x1="459.90" y1="394.10" x2="459.90" y2="391.30" stroke="#555" stroke-width="0.9" />
<line x1="463.33" y1="394.10" x2="463.33" y2="390.10" stroke="#555" stroke-width="0.9" />
<line x1="485.90" y1="394.10" x2="485.90" y2="391.30" stroke="#555" stroke-width="0.9" />
<line x1="499.10" y1="394.10" x2="499.10" y2="391.30" stroke="#555" stroke-width="0.9" />
<line x1="508.47" y1="394.10" x2="508.47" y2="391.30" stroke="#555" stroke-width="0.9" />
<line x1="515.73" y1="394.10" x2="515.73" y2="391.30" stroke="#555" stroke-width="0.9" />
<line x1="521.67" y1="394.10" x2="521.67" y2="391.30" stroke="#555" stroke-width="0.9" />
<line x1="526.69" y1="394.10" x2="526.69" y2="391.30" stroke="#555" stroke-width="0.9" />
<line x1="531.03" y1="394.10" x2="531.03" y2="391.30" stroke="#555" stroke-width="0.9" />
<line x1="534.87" y1="394.10" x2="534.87" y2="391.30" stroke="#555" stroke-width="0.9" />
<text x="306.30" y="394.50" font-size="8.5" letter-spacing="0" text-anchor="end" fill="#2a2a2a" stroke="#2a2a2a" stroke-width="0.05" >0.01</text>
<text x="306.30" y="340.50" font-size="8.5" letter-spacing="0" text-anchor="end" fill="#2a2a2a" stroke="#2a2a2a" stroke-width="0.05" >0.1</text>
<text x="306.30" y="281.20" font-size="8.5" letter-spacing="0" text-anchor="end" fill="#2a2a2a" stroke="#2a2a2a" stroke-width="0.05" >1</text>
<text x="306.30" y="225.30" font-size="8.5" letter-spacing="0" text-anchor="end" fill="#2a2a2a" stroke="#2a2a2a" stroke-width="0.05" >10</text>
<text x="312.80" y="406.50" font-size="8.5" letter-spacing="0" text-anchor="middle" fill="#2a2a2a" stroke="#2a2a2a" stroke-width="0.05" >0.1</text>
<text x="381.80" y="406.50" font-size="8.5" letter-spacing="0" text-anchor="middle" fill="#2a2a2a" stroke="#2a2a2a" stroke-width="0.05" >1</text>
<text x="463.90" y="406.50" font-size="8.5" letter-spacing="0" text-anchor="middle" fill="#2a2a2a" stroke="#2a2a2a" stroke-width="0.05" >10</text>
<text x="538.50" y="406.50" font-size="8.5" letter-spacing="0" text-anchor="middle" fill="#2a2a2a" stroke="#2a2a2a" stroke-width="0.05" >100</text>
<text x="431.80" y="421.20" font-size="8.5" letter-spacing="0" text-anchor="middle" fill="#2a2a2a" stroke="#2a2a2a" stroke-width="0.05" >Nb/Yb</text>
<text x="0.00" y="0.00" font-size="8.5" letter-spacing="0" text-anchor="middle" fill="#2a2a2a" stroke="#2a2a2a" stroke-width="0.05" transform="translate(296.3,305) rotate(-90)">Th/Yb</text>
<rect x="326.4" y="227.9" width="11.2" height="11.2" fill="#fff" stroke="#444" stroke-width="1"/>
<text x="332.12" y="236.50" font-size="10.5" letter-spacing="0.25" text-anchor="middle" fill="#222" stroke="#222" stroke-width="0.12" >c</text>
<text x="0.12" y="0.00" font-size="7.6" letter-spacing="0.25" text-anchor="middle" fill="#2a2a2a" stroke="#2a2a2a" stroke-width="0.12" transform="translate(448.3,242.3) rotate(-43)">Continental</text>
<text x="0.12" y="0.00" font-size="7.6" letter-spacing="0.25" text-anchor="middle" fill="#2a2a2a" stroke="#2a2a2a" stroke-width="0.12" transform="translate(445.5,257.8) rotate(-43)">Arcs</text>
<text x="0.12" y="0.00" font-size="7.6" letter-spacing="0.25" text-anchor="middle" fill="#2a2a2a" stroke="#2a2a2a" stroke-width="0.12" transform="translate(338.7,333.4) rotate(-43)">Oceanic</text>
<text x="0.12" y="0.00" font-size="7.6" letter-spacing="0.25" text-anchor="middle" fill="#2a2a2a" stroke="#2a2a2a" stroke-width="0.12" transform="translate(339.6,344.4) rotate(-43)">Arcs</text>
<text x="0.12" y="0.00" font-size="7.6" letter-spacing="0.25" text-anchor="middle" fill="#2a2a2a" stroke="#2a2a2a" stroke-width="0.12" transform="translate(465.8,288.2) rotate(-40)">MORB-OIB Array</text>
<rect x="376.50" y="355.80" width="5.8" height="3.6" fill="#111"/>
<rect x="429.70" y="309.50" width="5.8" height="3.6" fill="#111"/>
<rect x="488.00" y="259.60" width="5.8" height="3.6" fill="#111"/>
<text x="505.10" y="274.20" font-size="7.6" letter-spacing="0.25" text-anchor="start" fill="#2a2a2a" stroke="#2a2a2a" stroke-width="0.12" >OIB</text>
<text x="443.60" y="325.60" font-size="7.6" letter-spacing="0.25" text-anchor="start" fill="#2a2a2a" stroke="#2a2a2a" stroke-width="0.12" >E-MORB</text>
<text x="389.00" y="371.00" font-size="7.6" letter-spacing="0.25" text-anchor="start" fill="#2a2a2a" stroke="#2a2a2a" stroke-width="0.12" >N-MORB</text>
<text x="322.90" y="366.80" font-size="7.6" letter-spacing="0.25" text-anchor="start" fill="#2a2a2a" stroke="#2a2a2a" stroke-width="0.12" >SSZ</text>
<line x1="340.40" y1="382.20" x2="340.40" y2="358.00" stroke="#4040c0" stroke-width="1.1" />
<polyline points="337.90,361.00 340.40,357.00 342.90,361.00" fill="none" stroke="#4040c0" stroke-width="1.1" />
<line x1="389.30" y1="349.30" x2="389.30" y2="325.10" stroke="#4040c0" stroke-width="1.1" />
<polyline points="386.80,328.10 389.30,324.10 391.80,328.10" fill="none" stroke="#4040c0" stroke-width="1.1" />
<line x1="419.00" y1="322.30" x2="419.00" y2="297.70" stroke="#4040c0" stroke-width="1.1" />
<polyline points="416.50,300.70 419.00,296.70 421.50,300.70" fill="none" stroke="#4040c0" stroke-width="1.1" />
<path d="M350,322 C348,312 356,306 366,310 C372,316 370,330 372,345 C372,358 368,370 356,372 C346,372 346,362 352,354 C356,346 352,334 350,322 Z" fill="none" stroke="#8fdde6" stroke-width="0.8" stroke-dasharray="4,1.5"/>
<path d="M380,300 C378,294 386,292 388,300 C392,312 396,324 390,334 C384,346 374,364 366,366 C360,364 364,350 372,340 C378,330 382,312 380,300 Z" fill="none" stroke="#6cc4b4" stroke-width="0.8" stroke-dasharray="4,1.5"/>
<path d="M340,315 C346,318 350,322 352,326" fill="none" stroke="#9edcec" stroke-width="0.8"/>
<path d="M392,320 C398,322 404,326 410,330" fill="none" stroke="#6cc4b4" stroke-width="0.8"/>
<path d="M356,372 C360,378 365,380 370,380" fill="none" stroke="#7dd3dc" stroke-width="0.8"/>
<text x="318.70" y="307.60" font-size="7.6" letter-spacing="0.25" text-anchor="start" fill="#98d8ea" stroke="#98d8ea" stroke-width="0.12" >fresh gabbro</text>
<text x="402.60" y="335.60" font-size="7.6" letter-spacing="0.25" text-anchor="start" fill="#45ae9a" stroke="#45ae9a" stroke-width="0.12" >blackwall</text>
<text x="356.80" y="385.00" font-size="7.6" letter-spacing="0.25" text-anchor="start" fill="#4cc4cf" stroke="#4cc4cf" stroke-width="0.12" >rodingite</text>
<polygon points="363.00,314.10 366.00,317.10 363.00,320.10 360.00,317.10" fill="#1fb6c9" stroke="#16434c" stroke-width="0.9" />
<polygon points="360.80,319.40 363.80,322.40 360.80,325.40 357.80,322.40" fill="#1fb6c9" stroke="#16434c" stroke-width="0.9" />
<polygon points="363.80,340.40 366.80,343.40 363.80,346.40 360.80,343.40" fill="#1fb6c9" stroke="#16434c" stroke-width="0.9" />
<polygon points="364.50,360.10 367.50,363.10 364.50,366.10 361.50,363.10" fill="#1fb6c9" stroke="#16434c" stroke-width="0.9" />
<polygon points="349.20,363.80 352.20,366.80 349.20,369.80 346.20,366.80" fill="#1fb6c9" stroke="#16434c" stroke-width="0.9" />
<circle cx="384.20" cy="302.20" r="3.0" fill="#18aa92" stroke="#123f38" stroke-width="0.9"/>
<circle cx="390.80" cy="318.60" r="3.0" fill="#18aa92" stroke="#123f38" stroke-width="0.9"/>
<circle cx="381.40" cy="333.30" r="3.0" fill="#18aa92" stroke="#123f38" stroke-width="0.9"/>
<circle cx="379.80" cy="342.10" r="3.0" fill="#18aa92" stroke="#123f38" stroke-width="0.9"/>
<circle cx="373.90" cy="336.20" r="3.0" fill="#18aa92" stroke="#123f38" stroke-width="0.9"/>
<circle cx="366.70" cy="358.70" r="3.0" fill="#18aa92" stroke="#123f38" stroke-width="0.9"/>
<circle cx="353.50" cy="327.40" r="3.1" fill="#8ad6f2" stroke="#24465a" stroke-width="0.9"/>
<circle cx="370.40" cy="335.10" r="3.1" fill="#8ad6f2" stroke="#24465a" stroke-width="0.9"/>
<circle cx="350.70" cy="363.60" r="3.1" fill="#8ad6f2" stroke="#24465a" stroke-width="0.9"/>
</svg></body></html>
